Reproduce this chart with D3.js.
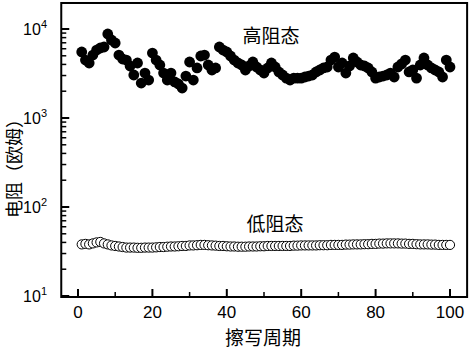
<!DOCTYPE html>
<html>
<head>
<meta charset="utf-8">
<script src="https://cdn.jsdelivr.net/npm/d3@7"></script>
<style>
  body { margin: 0; background: #fff; }
  svg { display: block; }
</style>
</head>
<body>
<svg id="chart" width="474" height="352"></svg>
<script>
// cycles 1..100
const cycles = d3.range(1, 101);

// high resistance state (ohm)
const highR = [
  5520, 4480, 4150, 5100, 5800, 6120, 6280, 8790, 7520, 6960,
  5100, 4600, 4480, 3840, 3040, 4150, 2470, 3200, 2670, 5370,
  4480, 3940, 3200, 2670, 3200, 2540, 2410, 2170, 2960, 4260,
  2670, 3650, 4970, 5100, 3940, 3460, 3650, 6280, 5800, 5520,
  4970, 4480, 4150, 3940, 3460, 3840, 4260, 3740, 3460, 3200,
  3650, 4150, 3740, 3290, 3040, 2810, 2670, 2810, 2810, 2810,
  2890, 2960, 3040, 3290, 3460, 3650, 3740, 4480, 4840, 3740,
  4150, 3200, 3840, 4720, 4260, 3940, 3840, 3650, 3290, 2810,
  2890, 2960, 3040, 3200, 2890, 3740, 4050, 4480, 3290, 3460,
  2810, 3940, 4720, 3940, 3650, 3460, 3290, 2890, 4480, 3740
];

// low resistance state (ohm)
const lowR = [
  38, 38.5, 38, 39, 40, 40.5, 39, 38, 37, 36.5,
  36, 35.5, 35, 35, 35, 34.8, 34.8, 35, 35, 35,
  35.2, 35.5, 35.5, 35.8, 36, 36, 36.2, 36.5, 36.5, 37,
  37, 37.2, 37.5, 37.5, 37.2, 37, 36.8, 36.5, 36.5, 36.2,
  36, 36, 35.8, 35.8, 35.8, 36, 36, 36, 36.2, 36.2,
  36.5, 36.5, 36.5, 36.5, 36.5, 36.5, 36.5, 36.8, 36.8, 37,
  37, 37, 37, 37, 37.2, 37.2, 37.2, 37.5, 37.5, 37.5,
  37.5, 37.8, 37.8, 38, 38, 38, 38.2, 38.2, 38.5, 38.5,
  38.8, 38.8, 39, 39, 39, 39, 38.8, 38.8, 38.5, 38.5,
  38.2, 38, 38, 38, 37.8, 37.8, 37.5, 37.5, 37.5, 37.5
];

const xTicks = [0, 20, 40, 60, 80, 100];
const xMinor = [10, 30, 50, 70, 90];
const yDecades = [1, 2, 3, 4];

const svg = d3.select("#chart");
const latin = "'Liberation Sans', Arial, sans-serif";
const cjk = "'Noto Sans CJK SC', sans-serif";

let x = d3.scaleLinear([0, 100], [78, 450]);
let y = d3.scaleLog([10, 1e4], [296, 29]);

const x0 = x(-4.5), x1 = x(104.6);
const yb = 297, yt = y(19600);

// frame
svg.append("rect")
  .attr("x", x0).attr("y", yt)
  .attr("width", x1 - x0).attr("height", yb - yt)
  .attr("fill", "none").attr("stroke", "#000").attr("stroke-width", 2);

// y minor ticks (inside), 2..9 of each decade
let minorY = [];
[1, 2, 3, 4].forEach((e) => {
  for (let m = 2; m <= 9; m++) {
    let v = m * Math.pow(10, e);
    if (y(v) > yt + 1) minorY.push(v);
  }
});

svg.append("g")
  .selectAll("line")
  .data(minorY)
  .join("line")
  .attr("x1", x0).attr("x2", x0 + 5)
  .attr("y1", (d) => y(d)).attr("y2", (d) => y(d))
  .attr("stroke", "#000").attr("stroke-width", 1.5);

svg.append("g")
  .selectAll("line")
  .data(yDecades.map((e) => Math.pow(10, e)))
  .join("line")
  .attr("x1", x0).attr("x2", x0 + 8)
  .attr("y1", (d) => y(d)).attr("y2", (d) => y(d))
  .attr("stroke", "#000").attr("stroke-width", 2);

// y tick labels 10^n
const ylab = svg.append("g")
  .selectAll("text")
  .data(yDecades)
  .join("text")
  .attr("x", 47)
  .attr("y", (d) => y(Math.pow(10, d)) + 6)
  .attr("text-anchor", "end")
  .attr("font-family", latin)
  .attr("font-size", 16)
  .attr("fill", "#000");
ylab.append("tspan").text("10");
ylab.append("tspan")
  .attr("font-size", 11)
  .attr("dy", -7)
  .text((d) => d);

// x ticks (inside)
svg.append("g")
  .selectAll("line")
  .data(xMinor)
  .join("line")
  .attr("x1", (d) => x(d)).attr("x2", (d) => x(d))
  .attr("y1", yb).attr("y2", yb - 5)
  .attr("stroke", "#000").attr("stroke-width", 1.5);

svg.append("g")
  .selectAll("line")
  .data(xTicks)
  .join("line")
  .attr("x1", (d) => x(d)).attr("x2", (d) => x(d))
  .attr("y1", yb).attr("y2", yb - 8)
  .attr("stroke", "#000").attr("stroke-width", 2);

svg.append("g")
  .selectAll("text")
  .data(xTicks)
  .join("text")
  .attr("x", (d) => x(d))
  .attr("y", 318)
  .attr("text-anchor", "middle")
  .attr("font-family", latin)
  .attr("font-size", 17)
  .attr("fill", "#000")
  .text((d) => d);

// axis titles
svg.append("text")
  .attr("x", 263).attr("y", 345)
  .attr("text-anchor", "middle")
  .attr("font-family", cjk)
  .attr("font-size", 19)
  .attr("fill", "#000")
  .text("擦写周期");

svg.append("text")
  .attr("transform", "translate(21,164) rotate(-90)")
  .attr("text-anchor", "middle")
  .attr("font-family", cjk)
  .attr("font-size", 18)
  .attr("fill", "#000")
  .text("电阻（欧姆）");

// series labels
svg.append("text")
  .attr("x", 271).attr("y", 43)
  .attr("text-anchor", "middle")
  .attr("font-family", cjk)
  .attr("font-size", 19)
  .attr("fill", "#000")
  .text("高阻态");

svg.append("text")
  .attr("x", 275).attr("y", 231)
  .attr("text-anchor", "middle")
  .attr("font-family", cjk)
  .attr("font-size", 19)
  .attr("fill", "#000")
  .text("低阻态");

// high resistance points
svg.append("g")
  .selectAll("circle")
  .data(cycles)
  .join("circle")
  .attr("cx", (d) => x(d))
  .attr("cy", (d, i) => y(highR[i]))
  .attr("r", 5.4)
  .attr("fill", "#000");

// low resistance points
svg.append("g")
  .selectAll("circle")
  .data(cycles)
  .join("circle")
  .attr("cx", (d) => x(d))
  .attr("cy", (d, i) => y(lowR[i]))
  .attr("r", 4.6)
  .attr("fill", "#fff")
  .attr("stroke", "#000")
  .attr("stroke-width", 1);
</script>
</body>
</html>
